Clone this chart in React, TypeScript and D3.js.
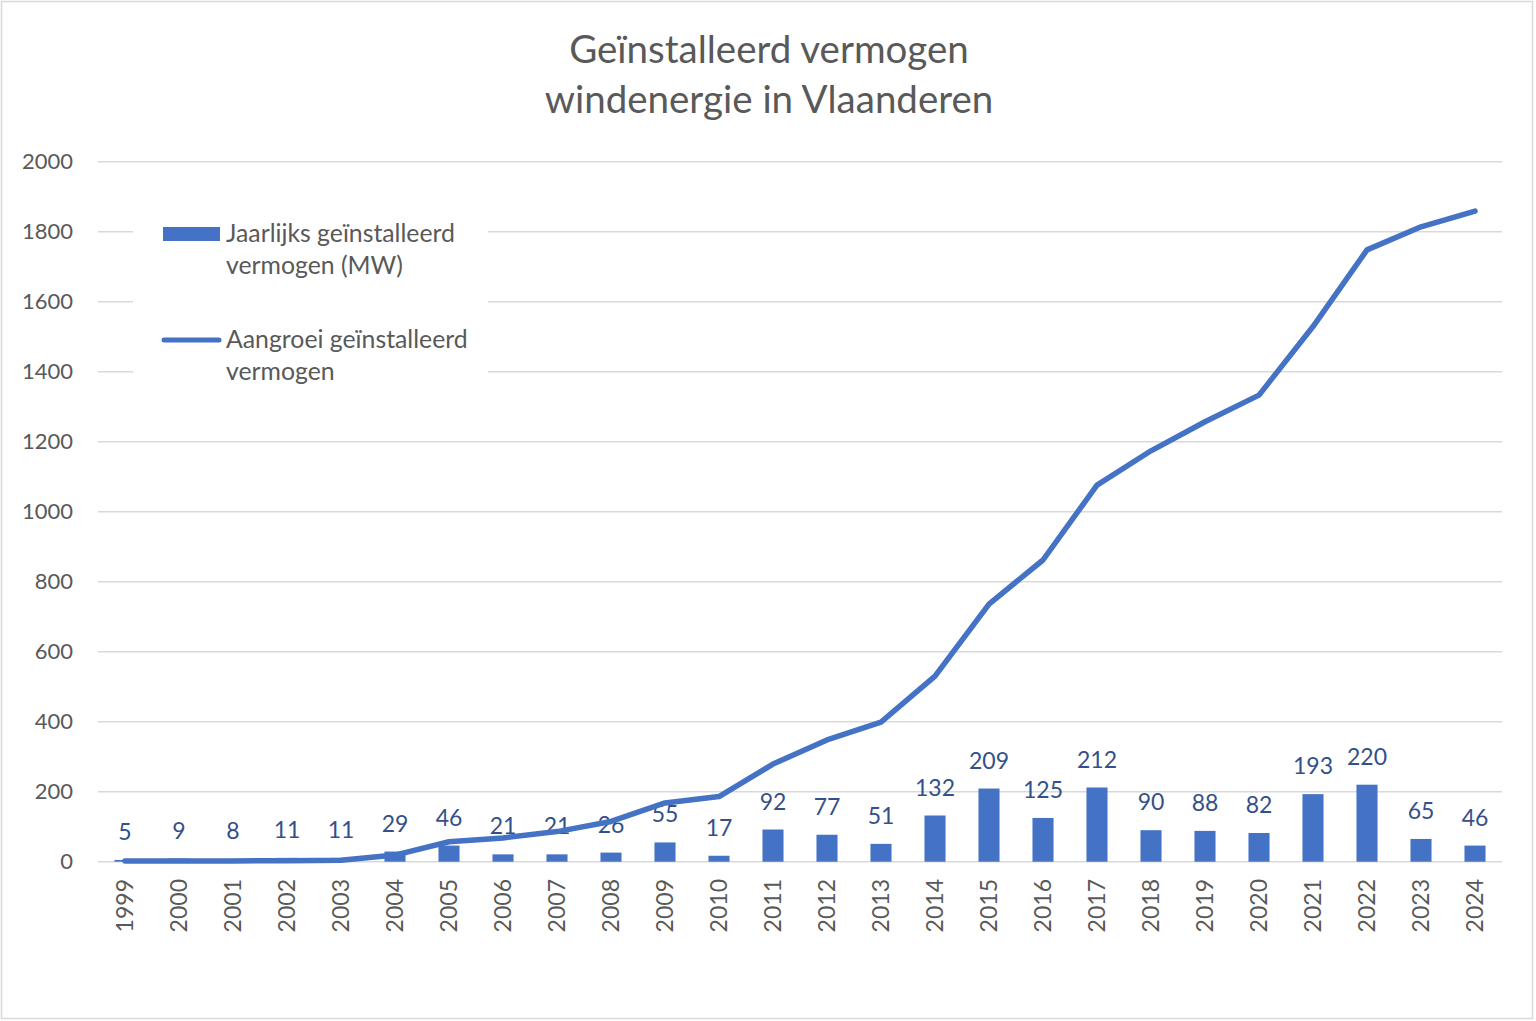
import { useEffect, useRef } from 'react';
import * as d3 from 'd3';

const W = 1536
const H = 1021
// plot area
const margin = { top: 161.7, right: 34, bottom: 159.3, left: 98 }

const years = ['1999', '2000', '2001', '2002', '2003', '2004', '2005', '2006', '2007', '2008', '2009', '2010', '2011',
  '2012', '2013', '2014', '2015', '2016', '2017', '2018', '2019', '2020', '2021', '2022', '2023', '2024']
// jaarlijks geinstalleerd vermogen (MW)
const yearly = [5, 9, 8, 11, 11, 29, 46, 21, 21, 26, 55, 17, 92, 77, 51, 132, 209, 125, 212, 90, 88, 82, 193, 220, 65, 46]
// aangroei geinstalleerd vermogen
const cumulative = [2, 2, 2, 3, 4, 19, 57, 68, 86, 115, 168, 186, 279, 348, 399, 530, 736, 862, 1076, 1174, 1257, 1333,
  1529, 1748, 1814, 1859]
const yTicks = [0, 200, 400, 600, 800, 1000, 1200, 1400, 1600, 1800, 2000]

const titleLines = ['Geïnstalleerd vermogen', 'windenergie in Vlaanderen']
const legendBar = ['Jaarlijks geïnstalleerd', 'vermogen (MW)']
const legendLine = ['Aangroei geïnstalleerd', 'vermogen']

const blue = '#4472C4'
const grey = '#595959'
const gridColor = '#d9d9d9'
const labelColor = '#34508A'
const font = 'Lato, "Noto Sans", sans-serif'

const App = () => {
  const d3svg = useRef(null)

  useEffect(() => {
    document.body.style.margin = '0'
    if (!d3svg.current) return
    const root = d3.select(d3svg.current)
    root.selectAll('*').remove()

    root.append('rect')
      .attr('x', 1.5).attr('y', 1.5)
      .attr('width', W - 5).attr('height', H - 4)
      .attr('fill', '#fff')
      .attr('stroke', gridColor)
      .attr('stroke-width', 1.5)

    // title
    root.append('g')
      .selectAll('text')
      .data(titleLines)
      .enter()
      .append('text')
      .attr('x', 769)
      .attr('y', (d, i) => 63 + i * 50)
      .attr('text-anchor', 'middle')
      .style('font-family', font)
      .style('font-size', '38.5px')
      .style('fill', grey)
      .text(d => d)

    const svg = root.append('g')
    const xScale = d3.scaleBand()
      .domain(years)
      .range([margin.left, W - margin.right])
      .padding(0)

    const yScale = d3.scaleLinear()
      .domain([0, 2000])
      .range([H - margin.bottom, margin.top])

    // gridlines
    svg.append('g')
      .selectAll('line')
      .data(yTicks)
      .enter()
      .append('line')
      .attr('x1', margin.left)
      .attr('x2', W - margin.right)
      .attr('y1', d => yScale(d))
      .attr('y2', d => yScale(d))
      .attr('stroke', gridColor)
      .attr('stroke-width', 1.5)

    // y axis labels
    svg.append('g')
      .selectAll('text')
      .data(yTicks)
      .enter()
      .append('text')
      .attr('x', 73)
      .attr('y', d => yScale(d))
      .attr('dy', '0.35em')
      .attr('text-anchor', 'end')
      .style('font-family', font)
      .style('font-size', '22px')
      .style('fill', grey)
      .text(d => d)

    // legend (white box over the gridlines)
    const legend = svg.append('g')
    legend.append('rect')
      .attr('x', 133).attr('y', 190)
      .attr('width', 355).attr('height', 212)
      .attr('fill', '#fff')
    legend.append('rect')
      .attr('x', 163).attr('y', 227)
      .attr('width', 57).attr('height', 14)
      .attr('fill', blue)
    legend.append('line')
      .attr('x1', 164).attr('x2', 219)
      .attr('y1', 340).attr('y2', 340)
      .attr('stroke', blue)
      .attr('stroke-width', 5)
      .attr('stroke-linecap', 'round')
    const legendText = (lines: string[], y0: number) => {
      legend.append('g')
        .selectAll('text')
        .data(lines)
        .enter()
        .append('text')
        .attr('x', 226)
        .attr('y', (d, i) => y0 + i * 32)
        .style('font-family', font)
        .style('font-size', '24.8px')
        .style('fill', grey)
        .text(d => d)
    }
    legendText(legendBar, 242)
    legendText(legendLine, 348)

    // bars
    const bw = xScale.bandwidth() * 0.39
    svg.append('g')
      .selectAll('.bar')
      .data(yearly)
      .enter()
      .append('rect')
      .attr('class', 'bar')
      .attr('x', (d, i) => xScale(years[i]) + xScale.bandwidth() / 2 - bw / 2)
      .attr('y', d => yScale(d))
      .attr('width', bw)
      .attr('height', d => yScale(0) - yScale(d))
      .style('fill', blue)

    // bar labels
    svg.append('g')
      .selectAll('text')
      .data(yearly)
      .enter()
      .append('text')
      .attr('x', (d, i) => xScale(years[i]) + xScale.bandwidth() / 2)
      .attr('y', d => yScale(d) - 20)
      .attr('text-anchor', 'middle')
      .style('font-family', font)
      .style('font-size', '23px')
      .style('fill', labelColor)
      .text(d => d)

    // line
    const line = d3.line<number>()
      .x((d, i) => xScale(years[i]) + xScale.bandwidth() / 2)
      .y(d => yScale(d))
    svg.append('path')
      .datum(cumulative)
      .attr('d', line)
      .attr('fill', 'none')
      .attr('stroke', blue)
      .attr('stroke-width', 5.5)
      .attr('stroke-linejoin', 'round')
      .attr('stroke-linecap', 'round')

    // x axis labels (rotated)
    svg.append('g')
      .selectAll('text')
      .data(years)
      .enter()
      .append('text')
      .attr('transform', d => `translate(${xScale(d) + xScale.bandwidth() / 2}, 879) rotate(-90)`)
      .attr('dy', '0.35em')
      .attr('text-anchor', 'end')
      .style('font-family', font)
      .style('font-size', '23px')
      .style('fill', grey)
      .text(d => d)
  }, [])

  return (
    <svg
      width={W}
      height={H}
      role="img"
      ref={d3svg}
      style={{ display: 'block' }}
    ></svg>
  )
}

export default App;
